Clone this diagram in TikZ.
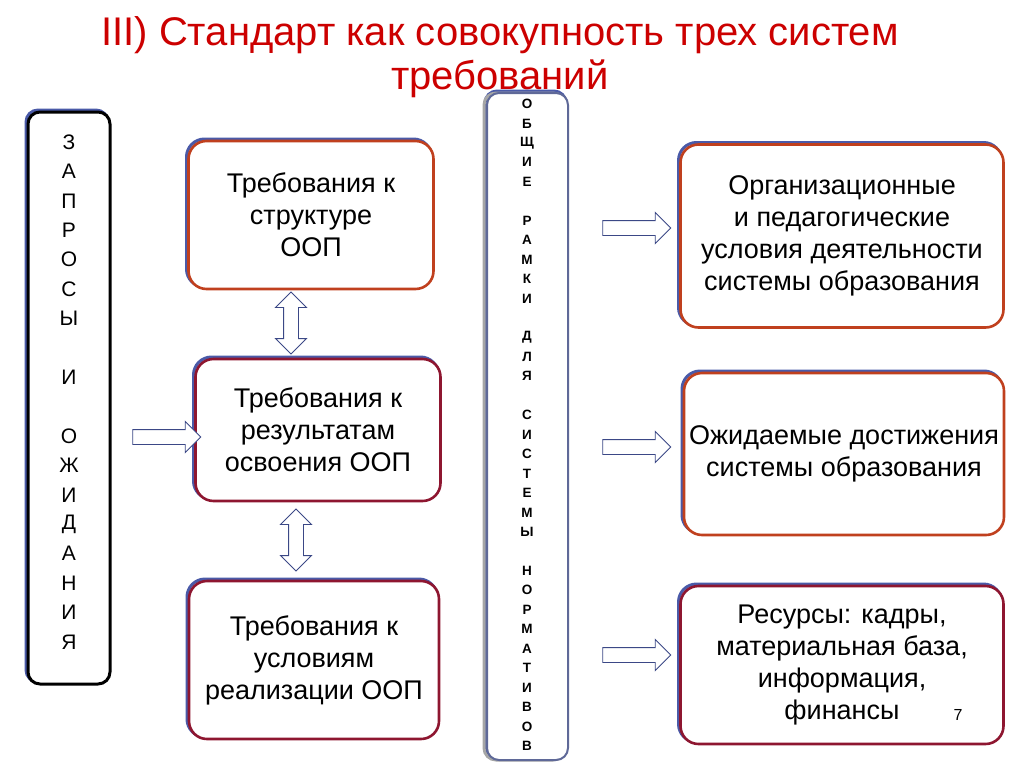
\documentclass[tikz,border=0pt]{standalone}
\usepackage{fontspec}
\setmainfont{Liberation Sans}
\usetikzlibrary{shapes.arrows}
\definecolor{orred}{HTML}{C0401E}
\definecolor{dkred}{HTML}{8E1630}
\definecolor{shblue}{HTML}{4A5AA8}
\begin{document}
\begin{tikzpicture}[x=1pt,y=-1pt,
 box/.style={rounded corners=18pt, fill=white, line width=2.6pt, align=center, font=\fontsize{27}{32}\selectfont,
   preaction={draw=shblue, line width=3pt, transform canvas={shift={(-2pt,2pt)}}}},
 harrow/.style={single arrow, draw=shblue!80!black, fill=white, line width=0.9pt, minimum height=68pt, single arrow head extend=8pt, inner xsep=0pt, inner ysep=7pt, text height=0pt, text depth=0pt},
 varrow/.style={double arrow, draw=shblue!80!black, fill=white, line width=0.9pt, minimum height=62pt, double arrow head extend=8pt, rotate=90, inner xsep=0pt, inner ysep=7pt, text height=0pt, text depth=0pt},
 let/.style={font=\fontsize{21}{21}\selectfont},
 mlet/.style={font=\bfseries\fontsize{13.5}{13.5}\selectfont}]
\useasboundingbox (0,0) rectangle (1024,768);
\node[text=red!80!black, font=\fontsize{40}{44}\selectfont, align=center] (title) at (500,57) {III) Стандарт как совокупность трех систем\\требований};
% left column
\draw[box, draw=black, line width=3pt, rounded corners=12pt] (28,112) rectangle (110,684);
\node (lcol) at (69,398) {};
\foreach \t [count=\i from 0] in {З,А,П,Р,О,С,Ы,,И,,О,Ж,И,Д,А,Н,И,Я}
  \node[let] at (69,142+29.4*\i) {\t};
% middle column
\draw[box, draw=shblue!60!gray, preaction={draw=gray!70, line width=3pt, transform canvas={shift={(-3pt,0pt)}}}, line width=2pt, rounded corners=12pt] (487,93) rectangle (568,760);
\node (mcol) at (527,425) {};
\foreach \t [count=\i from 0] in {О,Б,Щ,И,Е,,Р,А,М,К,И,,Д,Л,Я,,С,И,С,Т,Е,М,Ы,,Н,О,Р,М,А,Т,И,В,О,В}
  \node[mlet] at (527,104+19.45*\i) {\t};
% left boxes
\node[box, draw=orred, minimum width=245pt, minimum height=148pt] (b1) at (311,215) {Требования к\\структуре\\ООП};
\node[box, draw=dkred, minimum width=245pt, minimum height=142pt] (b2) at (318,430) {Требования к\\результатам\\освоения ООП};
\node[box, draw=dkred, minimum width=250pt, minimum height=158pt] (b3) at (314,660) {Требования к\\условиям\\реализации ООП};
% right boxes
\node[box, draw=orred, minimum width=323pt, minimum height=183pt] (r1) at (842,236) {Организационные\\и педагогические\\условия деятельности\\системы образования};
\node[box, draw=orred, minimum width=320pt, minimum height=162pt] (r2) at (844,454) {Ожидаемые достижения\\системы образования};
\node[box, draw=dkred, minimum width=323pt, minimum height=158pt] (r3) at (842,665) {Ресурсы: кадры,\\ материальная база,\\информация,\\финансы};
\node[font=\fontsize{16}{16}\selectfont] (pg) at (958,715) {7};
% arrows
\node[harrow] (a0) at (163,437) {};
\node[harrow] (a1) at (633,228) {};
\node[harrow] (a2) at (633,447) {};
\node[harrow] (a3) at (633,655) {};
\node[varrow] (v1) at (291,323) {};
\node[varrow] (v2) at (296,540) {};
\end{tikzpicture}
\end{document}
